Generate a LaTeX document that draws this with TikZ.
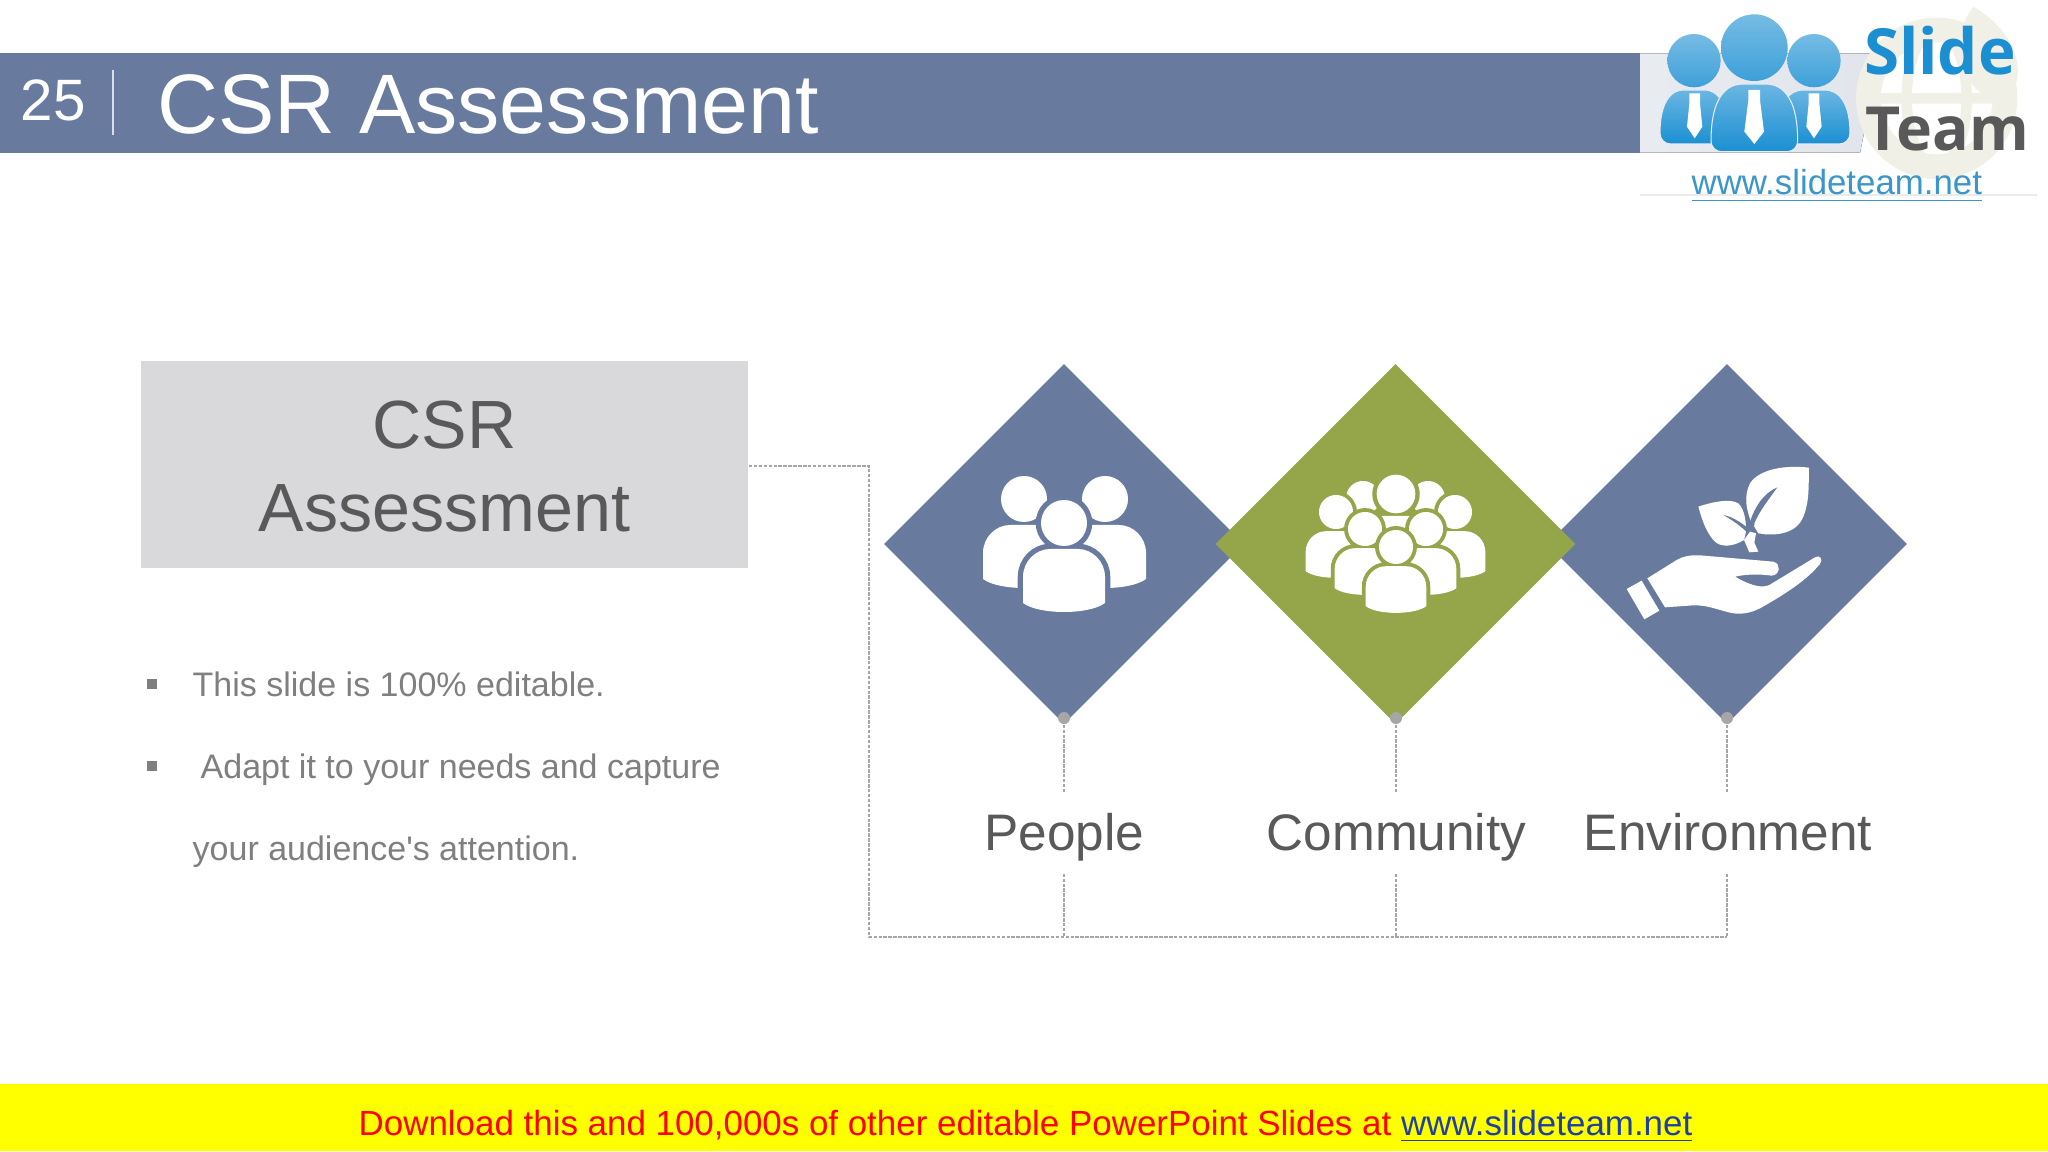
\documentclass[tikz,border=0pt]{standalone}
\usepackage{fontspec}
\setmainfont{Liberation Sans}
\newfontfamily\logofont{Open Sans}
\usetikzlibrary{shapes.geometric,positioning}
\definecolor{slateblue}{HTML}{687B9F}
\definecolor{mossgreen}{HTML}{94A54A}
\definecolor{boxgray}{HTML}{D9D8DB}
\definecolor{textgray}{HTML}{595959}
\definecolor{bulletgray}{HTML}{7F7F7F}
\definecolor{linegray}{HTML}{A6A6A6}
\definecolor{logoblue}{HTML}{1B8FD2}
\definecolor{logopale}{HTML}{F1F0E6}
\definecolor{urlblue}{HTML}{3D96C8}
\definecolor{bandyellow}{RGB}{255,255,0}
\definecolor{bandred}{RGB}{255,0,0}
\definecolor{linkblue}{HTML}{1F3FA8}
\tikzset{
  gem/.style={diamond,aspect=1,inner sep=0pt,minimum width=3.6cm,minimum height=3.6cm,fill=#1},
  pin/.style={circle,inner sep=0pt,minimum size=.12cm,fill=linegray},
  tag/.style={inner sep=0pt,minimum height=.8cm,text height=.37cm,text depth=.03cm,text=textgray,font=\fontsize{14.6}{17}\selectfont},
  note/.style={inner sep=0pt,anchor=base west,text=bulletgray,font=\fontsize{9.67}{12}\selectfont},
  tick/.style={rectangle,inner sep=0pt,minimum size=.09cm,fill=bulletgray},
  wire/.style={linegray,line width=.4pt,dash pattern=on 1pt off .4pt},
}
\newcommand{\headshape}{(0,0) circle[radius=23]}
\newcommand{\bodyshape}{(-41,80) -- (-41,54) .. controls (-41,38) and (-28,26) .. (-14,26) -- (14,26) .. controls (28,26) and (41,38) .. (41,54) -- (41,80) .. controls (25,92) and (-25,92) .. (-41,80) -- cycle}
\newcommand{\personicon}[4]{%
\begin{scope}[shift={(#1,#2)},scale=#3]
\draw[#4,fill=#4,line width=#3*3pt,line join=round] \bodyshape \headshape;
\fill[white] \bodyshape \headshape;
\end{scope}}
\begin{document}
\begin{tikzpicture}[x=.01cm,y=-.01cm]
\useasboundingbox (0,0) rectangle (2048,1152);
\fill[white] (0,0) rectangle (2048,1152);
% header
\fill[slateblue] (0,53) rectangle (1640,153);
\node[inner sep=0pt,anchor=base west,text=white,font=\fontsize{16.6}{20}\selectfont] (slidenum) at (20,121) {25};
\draw[white!75!slateblue,line width=.4pt] (113,70) -- (113,135);
\node[inner sep=0pt,anchor=base west,text=white,font=\fontsize{24}{29}\selectfont] (title) at (157,134) {CSR Assessment};
% logo
\begin{scope}[shift={(1620,0)},scale=1/3]
\fill[left color=white!85!slateblue,right color=white!80!slateblue] (60,160) -- (780,160) -- (720,458) -- (60,458) -- cycle;
\draw[logopale,line width=7pt] (950,295) circle[radius=205];
\draw[logopale,line width=3pt] (950,295) ellipse[x radius=90,y radius=205] (745,295) -- (1155,295);
\fill[logopale] (1060,20) .. controls (1180,90) and (1240,220) .. (1150,320) .. controls (1010,260) and (980,130) .. (1060,20) -- cycle;
\foreach \cx/\cy/\rad in {222/182/80,582/182/80,403/143/100}
  \shade[top color=logoblue!60!white,bottom color=logoblue!85!white] (\cx,\cy) circle[radius=\rad];
\foreach \cx/\hw/\ty/\by in {222/102/270/432,582/108/270/432,403/130/252/455}
  \shade[top color=logoblue!65!white,bottom color=logoblue,draw=white!85!slateblue,line width=.3pt,rounded corners=3pt] ({\cx-\hw},\by) .. controls ({\cx-\hw},\ty) and ({\cx-.4*\hw},\ty) .. (\cx,\ty) .. controls ({\cx+.4*\hw},\ty) and ({\cx+\hw},\ty) .. ({\cx+\hw},\by) -- cycle;
\foreach \cx in {224,582}
  \fill[white] ({\cx-16},280) rectangle ({\cx+16},310) ({\cx-16},310) -- ({\cx+16},310) -- ({\cx+23},380) -- (\cx,415) -- ({\cx-23},380) -- cycle;
\fill[white] (385,270) rectangle (420,300) (385,300) -- (420,300) -- (432,395) -- (403,432) -- (373,395) -- cycle;
\node[inner sep=0pt,anchor=base west,text=logoblue,font=\logofont\bfseries\fontsize{18.1}{20}\selectfont] (logoslide) at (730,225) {Slide};
\node[inner sep=0pt,anchor=base west,text=textgray,font=\logofont\bfseries\fontsize{17.3}{20}\selectfont] (logoteam) at (735,452) {Team};
\draw[white!85!slateblue,line width=.4pt] (60,585) -- (1250,585);
\node[inner sep=0pt,anchor=base west,text=urlblue,font=\fontsize{9.9}{12}\selectfont] (logourl) at (213,585) {\underline{www.slideteam.net}};
\end{scope}
% left column
\node[rectangle,inner sep=0pt,minimum width=6.07cm,minimum height=2.07cm,fill=boxgray,text=textgray,align=center,font=\fontsize{19.4}{23.6}\selectfont] (csrbox) at (444.5,464.5) {\rule{0pt}{14.6pt}CSR\\Assessment};
\node[tick] (tickone) at (152,684) {};
\node[tick] (ticktwo) at (152,766) {};
\node[note] (noteone) at (192,696) {This slide is 100\% editable.};
\node[note] (notetwo) at (200,778) {Adapt it to your needs and capture};
\node[note] (notethree) at (192,860) {your audience\textquotesingle s attention.};
% diamonds
\node[gem=slateblue] (peoplegem) at (1064,544) {};
\node[gem=slateblue] (envgem) at (1727,544) {};
\node[gem=mossgreen] (commgem) at (1395.5,544) {};
\node[pin] (peoplepin) at (1064,718) {};
\node[pin] (commpin) at (1396,718) {};
\node[pin] (envpin) at (1727,718) {};
\node[tag] (peopletag) at (1064.5,833) {People};
\node[tag] (commtag) at (1396.5,833) {Community};
\node[tag] (envtag) at (1728,833) {Environment};
\coordinate (turntop) at (869,466);
\coordinate (turnlow) at (869,937);
\coordinate (peoplefoot) at (1064,937);
\coordinate (commfoot) at (1396,937);
\coordinate (envfoot) at (1727,937);
\draw[wire] (csrbox.east |- turntop) -- (turntop) -- (turnlow) -- (envfoot);
\foreach \kind in {people,comm,env}
  \draw[wire] (\kind pin) -- (\kind pin |- \kind tag.north) (\kind pin |- \kind tag.south) -- (\kind foot);
% icons
\personicon{1024}{499}{1}{slateblue}
\personicon{1105}{499}{1}{slateblue}
\personicon{1064}{523}{1}{slateblue}
\personicon{1363}{498}{.74}{mossgreen}
\personicon{1428}{498}{.74}{mossgreen}
\personicon{1396}{494}{.84}{mossgreen}
\personicon{1336}{512}{.74}{mossgreen}
\personicon{1455}{512}{.74}{mossgreen}
\personicon{1365}{529}{.74}{mossgreen}
\personicon{1426}{529}{.74}{mossgreen}
\personicon{1396}{547}{.74}{mossgreen}
\begin{scope}[shift={(1560,360)},scale=1/3]
\fill[white] (200,687) -- (245,662) -- (298,752) -- (253,778) -- cycle;
\fill[white] (262,655) -- (350,600) .. controls (370,588) and (390,585) .. (420,586) -- (640,605) .. controls (665,612) and (660,645) .. (635,647) .. controls (600,642) and (560,642) .. (525,650) .. controls (560,670) and (600,688) .. (628,675) -- (765,592) .. controls (780,582) and (790,600) .. (780,612) .. controls (740,660) and (680,700) .. (600,745) .. controls (570,760) and (540,765) .. (510,758) .. controls (470,748) and (440,735) .. (400,736) -- (315,742) -- cycle;
\fill[white] (747,323) .. controls (680,315) and (600,325) .. (570,370) .. controls (550,410) and (560,450) .. (572,482) -- (595,520) .. controls (650,530) and (710,520) .. (730,470) .. controls (750,420) and (745,370) .. (747,323) -- cycle;
\fill[white] (415,440) .. controls (460,425) and (510,415) .. (535,430) .. controls (555,450) and (560,490) .. (557,520) -- (552,540) .. controls (520,560) and (480,565) .. (460,540) .. controls (435,510) and (425,475) .. (415,440) -- cycle;
\fill[slateblue] (652,382) .. controls (610,400) and (585,440) .. (570,485) -- (582,510) -- (583,490) .. controls (600,450) and (625,420) .. (652,382) -- cycle;
\fill[slateblue] (490,465) .. controls (520,470) and (555,495) .. (582,520) -- (580,540) .. controls (560,510) and (525,485) .. (490,465) -- cycle;
\fill[white] (552,540) -- (568,577) -- (595,575) -- (583,548) -- (588,520) -- (570,515) -- cycle;
\end{scope}
% footer
\fill[bandyellow] (0,1084) rectangle (2048,1151);
\node[inner sep=0pt,anchor=base west,text=bandred,font=\fontsize{9.93}{12}\selectfont] (footnote) at (358,1135) {Download this and 100,000s of other editable PowerPoint Slides at {\color{linkblue}\underline{www.slideteam.net}}};
\end{tikzpicture}
\end{document}
